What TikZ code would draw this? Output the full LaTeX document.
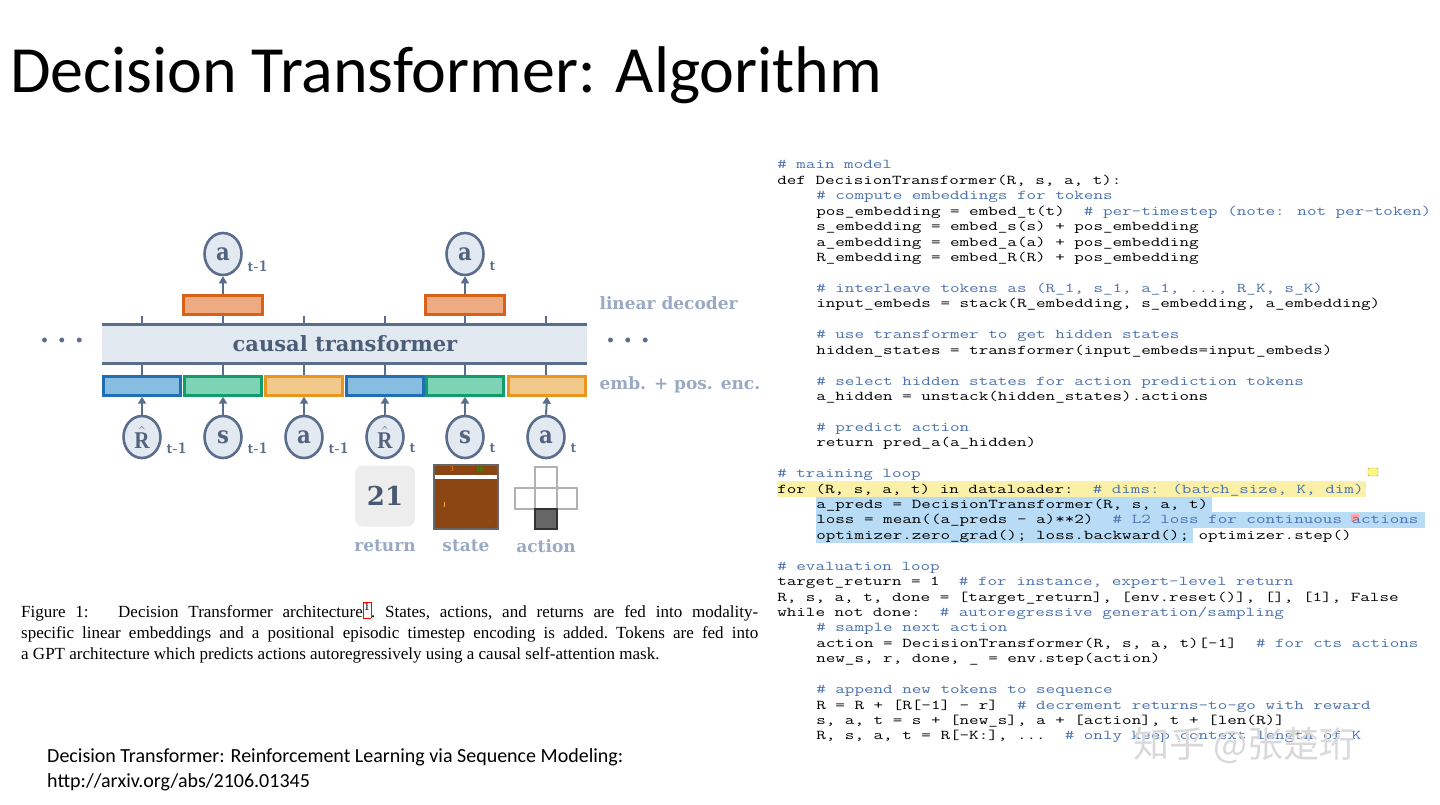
\documentclass[tikz,border=0pt]{standalone}
\usepackage{fontspec}
\setmainfont{Liberation Serif}
\newfontfamily\titlefont{Carlito}
\newfontfamily\dfont{DejaVu Serif}
\newfontfamily\cjk{Noto Sans CJK SC}
\usetikzlibrary{arrows.meta}
\definecolor{ink}{HTML}{5A6E8C}
\definecolor{lab}{HTML}{9AAAC4}
\definecolor{band}{HTML}{E3E9F1}
\definecolor{cmt}{HTML}{4A72B0}
\definecolor{bluef}{HTML}{86BDE0}\definecolor{blued}{HTML}{1F6FB2}
\definecolor{greenf}{HTML}{7DD3B5}\definecolor{greend}{HTML}{0F9D6A}
\definecolor{yelf}{HTML}{F2C98A}\definecolor{yeld}{HTML}{E8961E}
\definecolor{decf}{HTML}{EEAA80}\definecolor{decd}{HTML}{D9621A}
\definecolor{hly}{HTML}{FAF0A8}\definecolor{hlb}{HTML}{B8DBF6}
\tikzset{
 tok/.style={circle,draw=ink,fill=band,line width=2.6pt,minimum size=42pt,inner sep=0pt,font=\dfont\bfseries\fontsize{24}{24}\selectfont,text=ink!90!black, xscale=0.88},
 sub/.style={anchor=west,font=\sffamily\bfseries\fontsize{15}{15}\selectfont,text=ink},
 emb/.style={draw=#1d,fill=#1f,line width=2.4pt,minimum width=77pt,minimum height=19pt,inner sep=0pt},
 dec/.style={draw=decd,fill=decf,line width=2.4pt,minimum width=79pt,minimum height=19pt,inner sep=0pt},
 arr/.style={draw=ink,line width=2pt,-{Triangle[length=7pt,width=8pt]}},
 tick/.style={draw=ink,line width=2pt},
 lbl/.style={font=\dfont\bfseries\fontsize{17}{17}\selectfont,text=lab},
 code/.style={anchor=base west,inner sep=0pt,font=\ttfamily\fontsize{13.5}{13.5}\selectfont,xscale=1.375,transform shape},
}
\newcommand{\cm}[1]{\textcolor{cmt}{#1}}
\begin{document}
\begin{tikzpicture}[x=1pt,y=-1pt]
\useasboundingbox[fill=white] (0,0) rectangle (1440,805);
% title
\node[anchor=west,inner sep=0pt,font=\titlefont\fontsize{66}{66}\selectfont] (title) at (10,75) {Decision Transformer: Algorithm};
% transformer band
\fill[band] (102,324) rectangle (587,363);
\draw[ink,line width=3pt] (102,324) -- (587,324) (102,363) -- (587,363);
\node[font=\dfont\bfseries\fontsize{21}{21}\selectfont,text=ink!85!black] (ct) at (345,344) {causal transformer};
\node[font=\bfseries\fontsize{30}{30}\selectfont,text=ink] (dl) at (62,340) {.\,\,.\,\,.};
\node[font=\bfseries\fontsize{30}{30}\selectfont,text=ink] (dr) at (628,340) {.\,\,.\,\,.};
% embeddings
\node[emb=blue] (e1) at (142,386) {};
\node[emb=green] (e2) at (223,386) {};
\node[emb=yel] (e3) at (304,386) {};
\node[emb=blue] (e4) at (385,386) {};
\node[emb=green] (e5) at (465,386) {};
\node[emb=yel] (e6) at (547,386) {};
\foreach \x in {142,223,304,385,465,546}{\draw[tick] (\x,363) -- (\x,375);}
\foreach \x in {142,304,385,546}{\draw[tick] (\x,316) -- (\x,324);}
% decoders
\node[dec] (d1) at (223,305) {};
\node[dec] (d2) at (465,305) {};
\draw[tick] (d1.south) -- (223,324);
\draw[tick] (d2.south) -- (465,324);
% outputs
\node[tok] (o1) at (223,254) {a}; \node[sub] at (244,266) {t-1};
\node[tok] (o2) at (465,254) {a}; \node[sub] at (486,266) {t};
\draw[arr] (d1.north) -- (o1.south);
\draw[arr] (d2.north) -- (o2.south);
% inputs
\node[tok] (i1) at (142,437) {$\hat{\mathbf{R}}$}; \node[sub] at (163,448) {t-1};
\node[tok] (i2) at (223,437) {s}; \node[sub] at (244,448) {t-1};
\node[tok] (i3) at (304,437) {a}; \node[sub] at (325,448) {t-1};
\node[tok] (i4) at (385,437) {$\hat{\mathbf{R}}$}; \node[sub] at (406,448) {t};
\node[tok] (i5) at (465,437) {s}; \node[sub] at (486,448) {t};
\node[tok] (i6) at (546,437) {a}; \node[sub] at (567,448) {t};
\draw[arr] (i1.north) -- (e1.south);
\draw[arr] (i2.north) -- (e2.south);
\draw[arr] (i3.north) -- (e3.south);
\draw[arr] (i4.north) -- (e4.south);
\draw[arr] (i5.north) -- (e5.south);
\draw[arr] (i6.north) -- (e6.south);
% side labels
\node[lbl,anchor=west] (ld) at (596,303) {linear decoder};
\node[lbl,anchor=west] (le) at (596,385) {emb. + pos. enc.};
% return / state / action
\node[fill=black!7,rounded corners=8pt,minimum width=60pt,minimum height=61pt,font=\dfont\bfseries\fontsize{26}{26}\selectfont,text=ink!80!black] (ret) at (385,496) {21};
\node[draw=black!60,line width=1.5pt,fill={rgb,255:red,139;green,69;blue,19},minimum width=64pt,minimum height=64pt,inner sep=0pt] (st) at (466,497) {};
\fill[white] (435,475) rectangle (497,479);
\node[font=\sffamily\fontsize{7}{7}\selectfont,text=orange] at (452,469) {3};
\node[font=\sffamily\fontsize{7}{7}\selectfont,text=green!70!black] at (480,469) {10};
\fill[orange!70] (444,502) rectangle (445,507);
\fill[green!60!black] (489,519) rectangle (490,523);
\draw[black!30,line width=2.4pt] (535,467) rectangle (557,488);
\draw[black!30,line width=2.4pt] (515,488) rectangle (535,509);
\draw[black!30,line width=2.4pt] (557,488) rectangle (577,509);
\draw[black!30,line width=2.4pt] (535,488) rectangle (557,509);
\draw[black!80,fill=black!60,line width=2.4pt] (535,509) rectangle (557,529);
\node[lbl] (lr) at (385,546) {return};
\node[lbl] (ls) at (466,546) {state};
\node[lbl] (la) at (546,546) {action};
% caption
\node[anchor=north west,inner sep=0pt,text width=737pt,align=justify,font=\fontsize{17}{21}\selectfont] (cap) at (21,602)
{\frenchspacing Figure 1:\ \ \ Decision Transformer architecture{\color{red}\fboxsep=0.5pt\fboxrule=0.4pt\fbox{\color{black}\textsuperscript{1}}}. States, actions, and returns are fed into modality-\linebreak specific linear embeddings and a positional episodic timestep encoding is added. Tokens are fed into\linebreak a GPT architecture which predicts actions autoregressively using a causal self-attention mask.};
% reference
\node[anchor=west,inner sep=0pt,font=\titlefont\fontsize{20}{20}\selectfont] (r1) at (47,757) {Decision Transformer: Reinforcement Learning via Sequence Modeling:};
\node[anchor=west,inner sep=0pt,font=\titlefont\fontsize{20}{20}\selectfont] (r2) at (47,782) {http://arxiv.org/abs/2106.01345};
% highlights
\fill[hly] (777,481) rectangle (1366,496.5);
\fill[hlb] (816,496.5) rectangle (1212,512);
\fill[hlb] (816,512) rectangle (1425,527.5);
\fill[hlb] (816,527.5) rectangle (1193,543);
\fill[yellow!50,draw=yellow!60!black,line width=0.4pt,rounded corners=1pt] (1368,468) rectangle (1378,476);
\fill[red!35] (1351,514) rectangle (1359,521);
% code
\node[code] (c0) at (777,169) {\cm{\# main model}};
\node[code] (c1) at (777,184.4) {def DecisionTransformer(R, s, a, t):};
\node[code] (c2) at (816,199.9) {\cm{\# compute embeddings for tokens}};
\node[code] (c3) at (816,215.3) {pos\_embedding = embed\_t(t)~~\cm{\# per-timestep (note: not per-token)}};
\node[code] (c4) at (816,230.7) {s\_embedding = embed\_s(s) + pos\_embedding};
\node[code] (c5) at (816,246.2) {a\_embedding = embed\_a(a) + pos\_embedding};
\node[code] (c6) at (816,261.6) {R\_embedding = embed\_R(R) + pos\_embedding};
\node[code] (c8) at (816,292.4) {\cm{\# interleave tokens as (R\_1, s\_1, a\_1, ..., R\_K, s\_K)}};
\node[code] (c9) at (816,307.9) {input\_embeds = stack(R\_embedding, s\_embedding, a\_embedding)};
\node[code] (c11) at (816,338.7) {\cm{\# use transformer to get hidden states}};
\node[code] (c12) at (816,354.2) {hidden\_states = transformer(input\_embeds=input\_embeds)};
\node[code] (c14) at (816,385.0) {\cm{\# select hidden states for action prediction tokens}};
\node[code] (c15) at (816,400.5) {a\_hidden = unstack(hidden\_states).actions};
\node[code] (c17) at (816,431.3) {\cm{\# predict action}};
\node[code] (c18) at (816,446.7) {return pred\_a(a\_hidden)};
\node[code] (c20) at (777,477.6) {\cm{\# training loop}};
\node[code] (c21) at (777,493.0) {for (R, s, a, t) in dataloader:~~\cm{\# dims: (batch\_size, K, dim)}};
\node[code] (c22) at (816,508.5) {a\_preds = DecisionTransformer(R, s, a, t)};
\node[code] (c23) at (816,523.9) {loss = mean((a\_preds - a)**2)~~\cm{\# L2 loss for continuous actions}};
\node[code] (c24) at (816,539.3) {optimizer.zero\_grad(); loss.backward(); optimizer.step()};
\node[code] (c26) at (777,570.2) {\cm{\# evaluation loop}};
\node[code] (c27) at (777,585.6) {target\_return = 1~~\cm{\# for instance, expert-level return}};
\node[code] (c28) at (777,601.0) {R, s, a, t, done = [target\_return], [env.reset()], [], [1], False};
\node[code] (c29) at (777,616.5) {while not done:~~\cm{\# autoregressive generation/sampling}};
\node[code] (c30) at (816,631.9) {\cm{\# sample next action}};
\node[code] (c31) at (816,647.3) {action = DecisionTransformer(R, s, a, t)[-1]~~\cm{\# for cts actions}};
\node[code] (c32) at (816,662.8) {new\_s, r, done, \_ = env.step(action)};
\node[code] (c34) at (816,693.6) {\cm{\# append new tokens to sequence}};
\node[code] (c35) at (816,709.1) {R = R + [R[-1] - r]~~\cm{\# decrement returns-to-go with reward}};
\node[code] (c36) at (816,724.5) {s, a, t = s + [new\_s], a + [action], t + [len(R)]};
\node[code] (c37) at (816,739.9) {R, s, a, t = R[-K:], ...~~\cm{\# only keep context length of K}};
% watermark
\node[font=\cjk\fontsize{36}{36}\selectfont,text=black!15,anchor=west,inner sep=0pt] (wm) at (1133,745) {知乎 @张楚珩};
\end{tikzpicture}
\end{document}
